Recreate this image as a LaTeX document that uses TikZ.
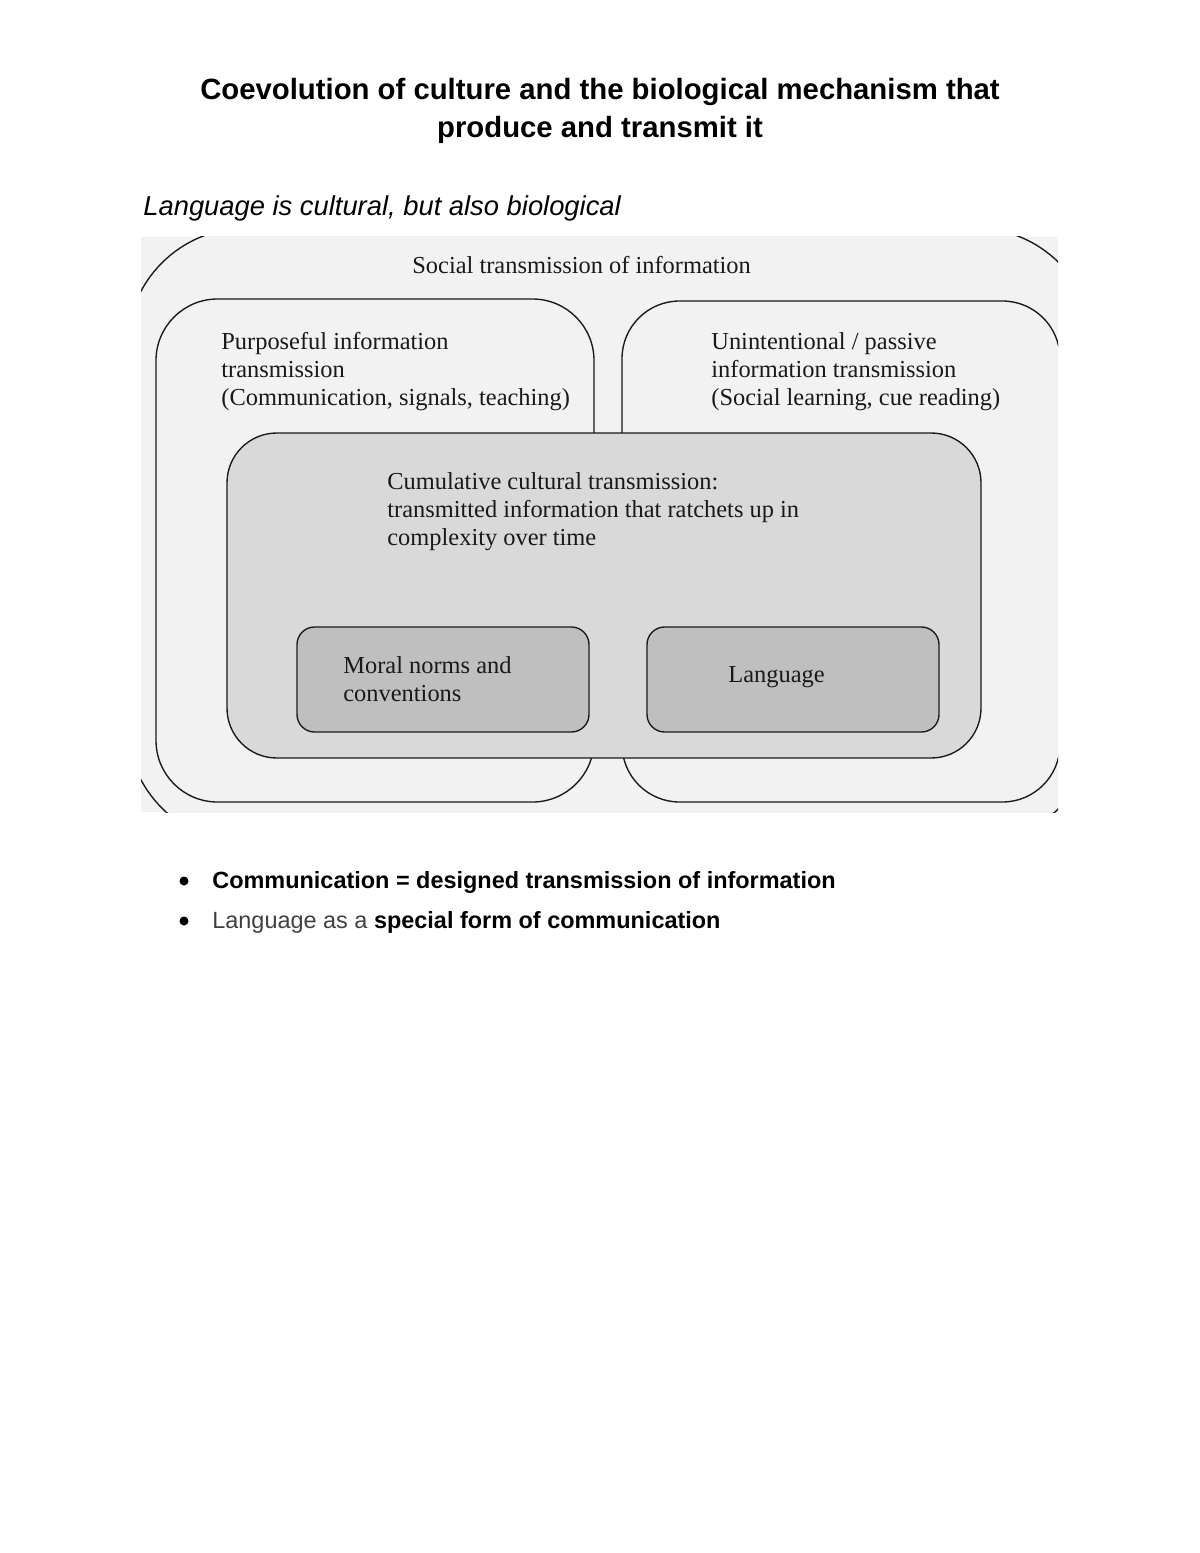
\documentclass[tikz,border=0pt]{standalone}
\usepackage{fontspec}
\setmainfont{Liberation Sans}
\newfontfamily\diagserif{Liberation Serif}
\usepackage{tikz}
\usetikzlibrary{positioning}
\definecolor{fundo}{HTML}{F2F2F2}
\definecolor{medio}{HTML}{D9D9D9}
\definecolor{escuro}{HTML}{BFBFBF}
\definecolor{traco}{HTML}{1A1A1A}
\tikzset{
  caixa/.style={draw=traco,line width=0.7pt},
  rotulo/.style={anchor=north west,inner sep=0pt,align=left,text=black!90,font=\diagserif\fontsize{12.5}{14.3}\selectfont},
  texto/.style={anchor=base west,inner sep=0pt},
}

\begin{document}
\begin{tikzpicture}[x=0.017992cm,y=-0.017992cm]
\useasboundingbox (0,0) rectangle (1200,1553);
\node[anchor=base,inner sep=0pt,font=\bfseries\fontsize{15}{18}\selectfont] (titulo1) at (600,99.5) {Coevolution of culture and the biological mechanism that};
\node[anchor=base,inner sep=0pt,font=\bfseries\fontsize{15}{18}\selectfont] (titulo2) at (600,137.5) {produce and transmit it};
\node[texto,font=\itshape\fontsize{14}{17}\selectfont] (subtitulo) at (143,216) {Language is cultural, but also biological};
\begin{scope}
\clip (141,237) rectangle (1058,812);
\fill[fundo] (141,237) rectangle (1058,812);
\draw[caixa,fill=fundo,rounded corners=61pt] (127,228) rectangle (1094,843);
\draw[caixa,fill=fundo,rounded corners=31.5pt] (156,299) rectangle (594,802);
\draw[caixa,fill=fundo,rounded corners=29.5pt] (622,301) rectangle (1060,802);
\draw[caixa,fill=medio,rounded corners=25.5pt] (227,433) rectangle (981,758);
\foreach \xa in {297,647} \draw[caixa,fill=escuro,rounded corners=9pt] (\xa,627) rectangle (\xa+292,732);
\end{scope}
\node[rotulo] (social) at (412,256) {Social transmission of information};
\node[rotulo] (proposital) at (221,332) {Purposeful information\\transmission\\(Communication, signals, teaching)};
\node[rotulo] (passiva) at (711,332) {Unintentional / passive\\information transmission\\(Social learning, cue reading)};
\node[rotulo] (cumulativa) at (387,472) {Cumulative cultural transmission:\\transmitted information that ratchets up in\\complexity over time};
\node[rotulo] (moral) at (343,656) {Moral norms and\\conventions};
\node[rotulo] (lingua) at (728,666) {Language};
\foreach \yb in {881,921} \fill (184,\yb) circle[radius=4.5];
\node[texto,font=\bfseries\fontsize{12}{14}\selectfont] (item1) at (212,888.5) {Communication = designed transmission of information};
\node[texto,font=\fontsize{12}{14}\selectfont] (item2) at (212,928.5) {\textcolor{black!75}{Language as a} \textbf{special form of communication}};
\end{tikzpicture}
\end{document}
